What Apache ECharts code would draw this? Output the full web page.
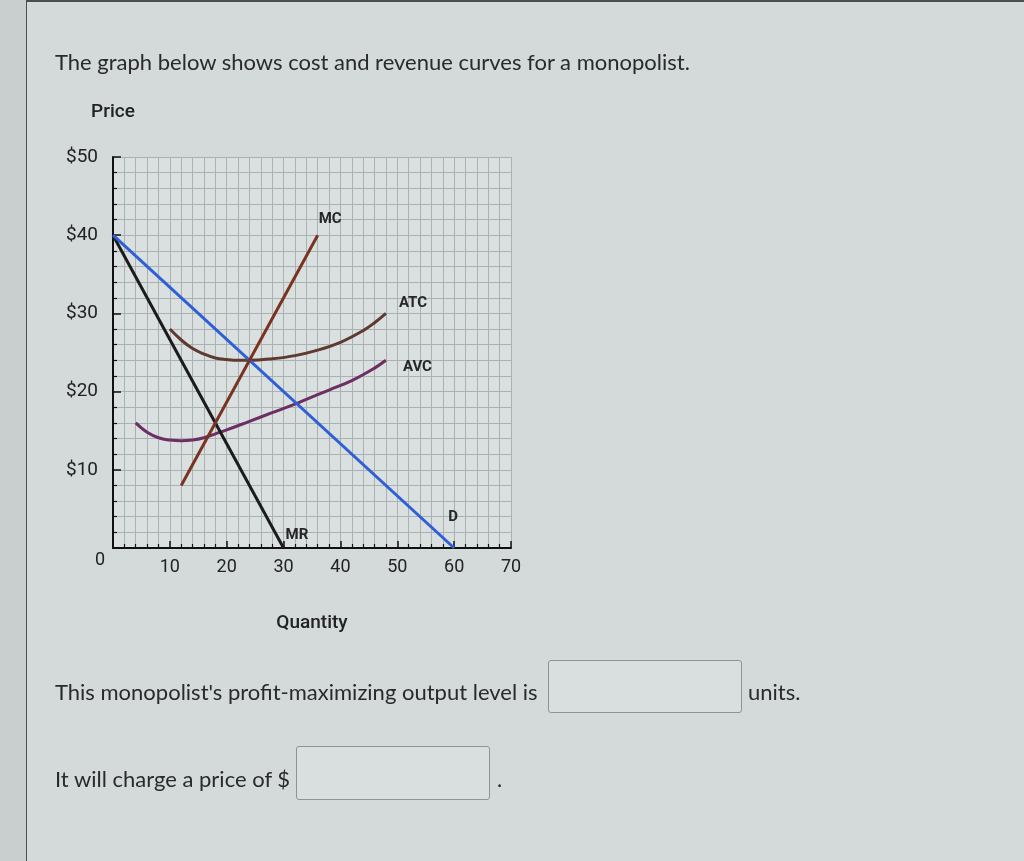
<!DOCTYPE html>
<html>
<head>
<meta charset="utf-8">
<script src="https://cdn.jsdelivr.net/npm/echarts@6/dist/echarts.min.js"></script>
<style>
  html, body { margin:0; padding:0; width:1024px; height:861px; overflow:hidden; background:#d3dad9; }
  #strip { position:absolute; left:0; top:0; width:26px; height:861px; background:#c8cfce; border-right:1.5px solid #4a4f50; }
  #topline { position:absolute; left:26px; top:0; width:998px; height:2px; background:#4a4f50; }
  #chart { position:absolute; left:0; top:0; width:1024px; height:861px; }
  .txt { position:absolute; font-family: Lato, "Open Sans", sans-serif; color:#2a2a2a; font-size:22px; white-space:nowrap; }
  .box { position:absolute; border:1.5px solid #8d9594; border-radius:3px; background:#d8dfde; }
</style>
</head>
<body>
<div id="strip"></div>
<div id="topline"></div>
<div id="chart"></div>
<div class="txt" style="left:55px;top:48px;">The graph below shows cost and revenue curves for a monopolist.</div>
<div class="txt" style="left:55px;top:678px;">This monopolist's profit-maximizing output level is</div>
<div class="box" style="left:548px;top:660px;width:192px;height:51px;"></div>
<div class="txt" style="left:748px;top:678px;">units.</div>
<div class="txt" style="left:55px;top:765px;">It will charge a price of $</div>
<div class="box" style="left:296px;top:746px;width:192px;height:52px;"></div>
<div class="txt" style="left:497px;top:765px;">.</div>
<script>
// Data (Quantity, Price)
const demandD = [[0, 40], [60, 0]];
const marginalRevenueMR = [[0, 40], [30, 0]];
const marginalCostMC = [[12, 8], [36, 40]];
const averageTotalCostATC = [[10, 28], [12, 26.6], [14, 25.5], [16, 24.8], [18, 24.3], [20, 24.1], [22, 24], [24, 24], [28, 24.2], [32, 24.6], [36, 25.3], [40, 26.3], [44, 27.8], [46, 28.8], [48, 30]];
const averageVariableCostAVC = [[4, 16], [6, 14.8], [8, 14.1], [10, 13.8], [12, 13.7], [14, 13.8], [16, 14.1], [18, 14.6], [20, 15.1], [24, 16.2], [28, 17.3], [32, 18.4], [34, 19], [38, 20.2], [42, 21.4], [46, 23], [48, 24]];
const xTicks = [0, 10, 20, 30, 40, 50, 60, 70];
const yTickLabels = ['0', '$10', '$20', '$30', '$40', '$50'];

const chart = echarts.init(document.getElementById('chart'), null, { renderer: 'canvas' });

const gridColor = '#a9b2b1';
const labelFont = 'Roboto, Arial, sans-serif';
const lineSeries = (name, data, color, z, offset) => ({
  name: name, type: 'line', data: data, smooth: (name === 'ATC' || name === 'AVC') ? 0.4 : false,
  showSymbol: false, symbol: 'none', z: z,
  lineStyle: { color: color, width: 3 },
  endLabel: { show: true, formatter: name, offset: offset, distance: 5,
    fontFamily: labelFont, fontWeight: 'bold', fontSize: 15, color: '#262626' },
  emphasis: { disabled: true }
});

chart.setOption({
  animation: false,
  backgroundColor: 'transparent',
  grid: { left: 113, right: 513, top: 157, bottom: 313, show: true, backgroundColor: '#d9e0df', borderWidth: 0 },
  xAxis: {
    type: 'value', min: 0, max: 70, interval: 10,
    name: 'Quantity', nameLocation: 'middle', nameGap: 66,
    nameTextStyle: { fontFamily: labelFont, fontSize: 19, color: '#222', fontWeight: 500 },
    axisLine: { show: true, onZero: false, lineStyle: { color: '#111', width: 2 } },
    axisTick: { show: true, inside: true, length: 7, lineStyle: { color: '#111', width: 1.5 } },
    minorTick: { show: true, splitNumber: 5, length: 4, lineStyle: { color: '#111', width: 1.2 } },
    splitLine: { show: true, lineStyle: { color: gridColor, width: 1 } },
    minorSplitLine: { show: true, lineStyle: { color: gridColor, width: 1 } },
    axisLabel: { margin: 10, fontFamily: labelFont, fontSize: 18, color: '#222',
      formatter: v => (v === 0 ? '' : String(xTicks[xTicks.indexOf(v)])) }
  },
  yAxis: {
    type: 'value', min: 0, max: 50, interval: 10,
    name: 'Price', nameLocation: 'end', nameGap: 35,
    nameTextStyle: { fontFamily: labelFont, fontSize: 19, color: '#222', fontWeight: 500, align: 'center' },
    axisLine: { show: true, onZero: false, lineStyle: { color: '#111', width: 2 } },
    axisTick: { show: true, inside: true, length: 8, lineStyle: { color: '#111', width: 1.5 } },
    minorTick: { show: true, splitNumber: 5, length: 4, lineStyle: { color: '#111', width: 1.2 } },
    splitLine: { show: true, lineStyle: { color: gridColor, width: 1 } },
    minorSplitLine: { show: true, lineStyle: { color: gridColor, width: 1 } },
    axisLabel: { margin: 15, fontFamily: labelFont, fontSize: 19, color: '#222',
      formatter: v => (v === 0 ? '' : yTickLabels[v / 10]) }
  },
  graphic: [
    { type: 'text', left: 95, top: 551, style: { text: '0', font: '18px Roboto, Arial, sans-serif', fill: '#222' } }
  ],
  series: [
    lineSeries('D', demandD, '#2f5fd6', 5, [-11, -31]),
    lineSeries('MR', marginalRevenueMR, '#1b1b1b', 4, [-3, -13]),
    lineSeries('MC', marginalCostMC, '#7a3322', 6, [-4, -16]),
    lineSeries('ATC', averageTotalCostATC, '#5e3a30', 3, [8, -10]),
    lineSeries('AVC', averageVariableCostAVC, '#6e2d63', 3, [12, 7])
  ]
});
</script>
</body>
</html>
